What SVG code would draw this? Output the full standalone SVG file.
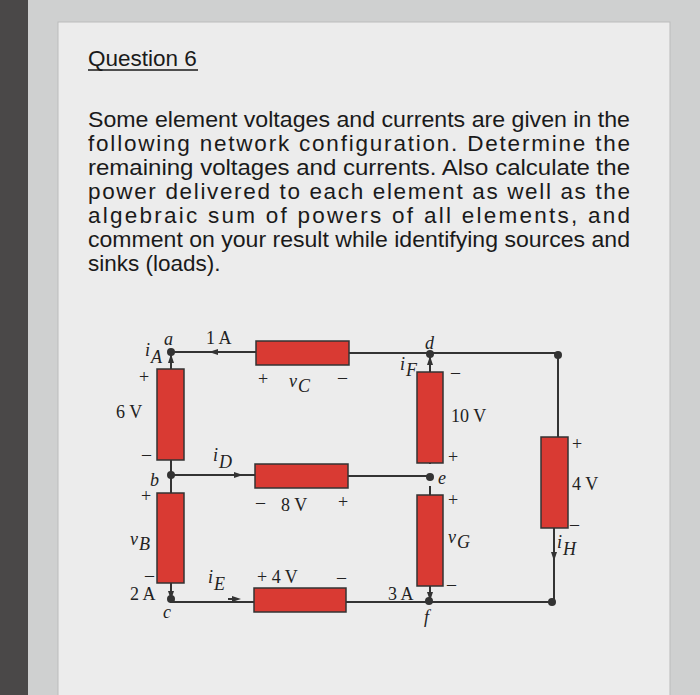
<svg xmlns="http://www.w3.org/2000/svg" width="700" height="695" viewBox="0 0 700 695">
<style>
.t{font-family:"Liberation Sans",Arial,sans-serif;font-size:22.5px;fill:#1a1a1a}
.s{font-family:"Liberation Serif","Times New Roman",serif;font-size:18px;fill:#222}
.i{font-style:italic}
.r{fill:#d93a33;stroke:#333;stroke-width:1.5}
.w{stroke:#333;stroke-width:2;fill:none}
.n{fill:#333}
</style>
<defs><marker id="ar" markerWidth="9" markerHeight="8" refX="4" refY="4" orient="auto" markerUnits="userSpaceOnUse"><path d="M0,1 L9,4 L0,7z" fill="#333"/></marker></defs>
<rect width="700" height="695" fill="#cfd0d0"/>
<rect x="0" y="0" width="28" height="695" fill="#4a4848"/>
<rect x="58" y="22" width="612" height="680" fill="#ececec" stroke="#bbb"/>
<text class="t" x="88" y="66" font-size="21">Question 6</text>
<line x1="88" y1="70" x2="198" y2="70" stroke="#1a1a1a" stroke-width="1.5"/>
<text class="t" x="88" y="127" textLength="542" lengthAdjust="spacingAndGlyphs">Some element voltages and currents are given in the</text>
<text class="t" x="88" y="151" textLength="542" lengthAdjust="spacing">following  network  configuration.    Determine  the</text>
<text class="t" x="88" y="175" textLength="542" lengthAdjust="spacingAndGlyphs">remaining voltages and currents. Also calculate the</text>
<text class="t" x="88" y="199" textLength="542" lengthAdjust="spacing">power delivered to each element as well as the</text>
<text class="t" x="88" y="223" textLength="542" lengthAdjust="spacing">algebraic  sum  of  powers  of  all  elements,  and</text>
<text class="t" x="88" y="247" textLength="542" lengthAdjust="spacingAndGlyphs">comment on your result while identifying sources and</text>
<text class="t" x="88" y="271">sinks (loads).</text>
<g id="connectors">
<path class="w" d="M171,352 H256 M349,353 H558 V437 M554,528 V602 H171 V583 M171,493 V460 M171,369 V352 M171,475 H255 M348,476 H430 M430,464 V372 M430,354 V372 M430,495 V486 M430,586 V601"/>
<line class="w" x1="222" y1="352" x2="214" y2="352" marker-end="url(#ar)"/>
<line class="w" x1="230" y1="475" x2="238" y2="475" marker-end="url(#ar)"/>
<line class="w" x1="228" y1="599" x2="236" y2="599" marker-end="url(#ar)"/>
<line class="w" x1="171" y1="366" x2="171" y2="359" marker-end="url(#ar)"/>
<line class="w" x1="171" y1="588" x2="171" y2="595" marker-end="url(#ar)"/>
<line class="w" x1="430" y1="368" x2="430" y2="361" marker-end="url(#ar)"/>
<line class="w" x1="430" y1="589" x2="430" y2="596" marker-end="url(#ar)"/>
<line class="w" x1="554" y1="548" x2="554" y2="556" marker-end="url(#ar)"/>
</g>
<g id="nodes">
<circle class="n" cx="171" cy="352" r="4"/><circle class="n" cx="430" cy="354" r="4"/><circle class="n" cx="558" cy="355" r="4"/>
<circle class="n" cx="171" cy="475" r="4"/><circle class="n" cx="430" cy="477" r="4"/>
<circle class="n" cx="171" cy="599" r="4"/><circle class="n" cx="429" cy="601" r="4"/><circle class="n" cx="552" cy="602" r="4"/>
</g>
<g id="A"><rect class="r" x="157" y="369" width="27" height="91"/></g>
<g id="B"><rect class="r" x="157" y="493" width="27" height="90"/></g>
<g id="C"><rect class="r" x="256" y="341" width="93" height="24"/></g>
<g id="D"><rect class="r" x="255" y="464" width="93" height="24"/></g>
<g id="E"><rect class="r" x="254" y="588" width="92" height="24"/></g>
<g id="F"><rect class="r" x="417" y="372" width="26" height="91"/></g>
<g id="G"><rect class="r" x="417" y="495" width="26" height="91"/></g>
<g id="H"><rect class="r" x="541" y="437" width="27" height="91"/></g>
<g id="labels" class="s">
<text x="164" y="345" class="s i">a</text><text x="206" y="344" class="s">1 A</text>
<text x="145" y="356" class="s i">i</text><text x="151" y="363" class="s i" font-size="12">A</text>
<text x="139" y="383" class="s">+</text><text x="116" y="418" class="s">6 V</text><text x="142" y="460" class="s">–</text>
<text x="150" y="486" class="s i">b</text><text x="141" y="502" class="s">+</text>
<text x="130" y="545" class="s i">v</text><text x="139" y="550" class="s i" font-size="12">B</text>
<text x="145" y="581" class="s">–</text><text x="130" y="600" class="s">2 A</text><text x="163" y="618" class="s i">c</text>
<text x="258" y="385" class="s">+</text><text x="289" y="387" class="s i">v</text><text x="298" y="392" class="s i" font-size="12">C</text><text x="338" y="383" class="s">–</text>
<text x="213" y="461" class="s i">i</text><text x="219" y="468" class="s i" font-size="12">D</text>
<text x="256" y="508" class="s">–</text><text x="281" y="511" class="s">8 V</text><text x="338" y="508" class="s">+</text>
<text x="208" y="583" class="s i">i</text><text x="214" y="590" class="s i" font-size="12">E</text>
<text x="257" y="583" class="s">+  4 V</text><text x="337" y="583" class="s">–</text>
<text x="425" y="349" class="s i">d</text><text x="400" y="370" class="s i">i</text><text x="406" y="376" class="s i" font-size="12">F</text>
<text x="451" y="378" class="s">–</text><text x="451" y="422" class="s">10 V</text><text x="448" y="463" class="s">+</text>
<text x="438" y="484" class="s i">e</text><text x="448" y="506" class="s">+</text>
<text x="448" y="543" class="s i">v</text><text x="457" y="548" class="s i" font-size="12">G</text>
<text x="447" y="590" class="s">–</text><text x="388" y="600" class="s">3 A</text><text x="424" y="623" class="s i">f</text>
<text x="572" y="450" class="s">+</text><text x="572" y="490" class="s">4 V</text><text x="570" y="530" class="s">–</text>
<text x="557" y="548" class="s i">i</text><text x="563" y="555" class="s i" font-size="12">H</text>
</g>
</svg>
